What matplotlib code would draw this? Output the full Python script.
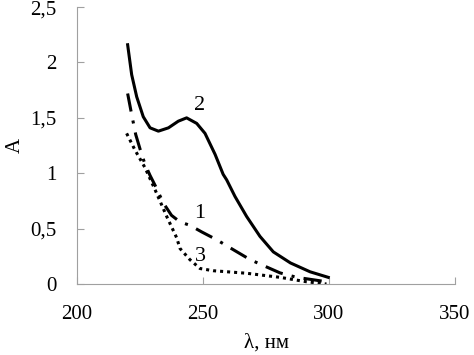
import numpy as np
import matplotlib
matplotlib.use("Agg")
import matplotlib.pyplot as plt

plt.rcParams['font.family'] = ['Liberation Serif', 'DejaVu Serif']

# curve 1 (dash-dot)
x1 = [220.1, 221.7, 223.3, 225.0, 227.0, 229.0, 231.0, 234.3, 237.5, 240.9, 244.8, 249.5, 255.4,
      262.0, 268.7, 274.6, 280.6, 287.2, 294.4, 299.0]
y1 = [1.72, 1.53, 1.35, 1.22, 1.08, 0.98, 0.89, 0.73, 0.62, 0.56, 0.53, 0.47, 0.40,
      0.31, 0.22, 0.16, 0.10, 0.06, 0.036, 0.02]

# curve 2 (solid)
x2 = [220.1, 221.7, 223.7, 226.3, 229.0, 232.3, 236.3, 240.2, 243.5, 247.5, 250.8, 254.8, 258.0,
      259.4, 262.7, 267.3, 272.6, 277.9, 284.7, 292.5, 299.7]
y2 = [2.16, 1.89, 1.69, 1.51, 1.41, 1.38, 1.41, 1.47, 1.50, 1.45, 1.36, 1.17, 0.99,
      0.94, 0.79, 0.61, 0.43, 0.29, 0.19, 0.11, 0.06]

# curve 3 (dotted)
x3 = [219.7, 223.0, 227.0, 231.0, 235.6, 239.5, 240.9, 244.8, 248.8, 254.0, 267.3, 280.6, 291.1, 299.0]
y3 = [1.36, 1.21, 1.05, 0.85, 0.61, 0.42, 0.32, 0.22, 0.14, 0.12, 0.097, 0.06, 0.02, 0.0]

xticks = [200, 250, 300, 350]
yticks = [0, 0.5, 1, 1.5, 2, 2.5]
ytick_labels = ['0', '0,5', '1', '1,5', '2', '2,5']

fig = plt.figure(figsize=(4.74, 3.55), dpi=100)
ax = fig.add_axes([0.1624, 0.2, 0.7976, 0.78])

ax.plot(x2, y2, color='black', lw=2.2, ls='-')
ax.plot(x1, y1, color='black', lw=2.2, ls=(0, (6, 3, 1, 3)))
ax.plot(x3, y3, color='black', lw=2.2, ls=(0, (1, 1.3)))

ax.text(248.8, 1.61, '2', fontsize=16, ha='center', va='center')
ax.text(248.8, 0.64, '1', fontsize=16, ha='center', va='center')
ax.text(248.8, 0.25, '3', fontsize=16, ha='center', va='center')

ax.set_xlim(200, 350)
ax.set_ylim(0, 2.5)
ax.set_xticks(xticks)
ax.set_yticks(yticks)
ax.set_yticklabels(ytick_labels)
for s in ['top', 'right']:
    ax.spines[s].set_visible(False)
for s in ['left', 'bottom']:
    ax.spines[s].set_color('#a0a0a0')
ax.tick_params(direction='in', length=5, color='#a0a0a0', labelsize=15, pad=15)

ax.set_xlabel('λ, нм', fontsize=15, labelpad=7)
ax.set_ylabel('А', fontsize=15, labelpad=4)

fig.savefig('out.png', dpi=100)
